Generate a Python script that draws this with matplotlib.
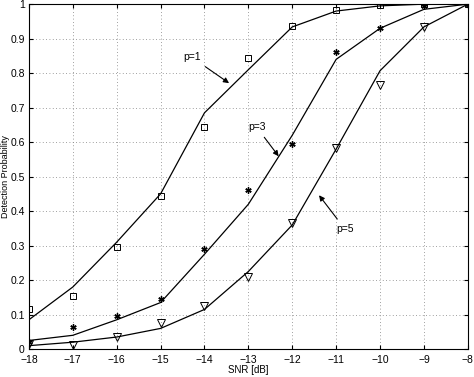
import matplotlib
matplotlib.use("Agg")
import matplotlib.pyplot as plt
import numpy as np

plt.rcParams["font.family"] = ["Liberation Sans", "DejaVu Sans"]

snr = [-18, -17, -16, -15, -14, -13, -12, -11, -10, -9, -8]

# theoretical curves
p1_line = [0.085, 0.18, 0.31, 0.45, 0.685, 0.81, 0.934, 0.98, 0.995, 1.0, 1.0]
p3_line = [0.025, 0.04, 0.085, 0.135, 0.275, 0.42, 0.62, 0.84, 0.93, 0.985, 1.0]
p5_line = [0.01, 0.02, 0.035, 0.06, 0.115, 0.225, 0.36, 0.58, 0.807, 0.934, 1.0]

# simulated points
p1_sim = [0.115, 0.155, 0.295, 0.445, 0.645, 0.845, 0.937, 0.983, 0.998, 1.0, 1.0]
p3_sim = [0.02, 0.065, 0.095, 0.145, 0.29, 0.46, 0.595, 0.862, 0.93, 0.995, 1.0]
p5_sim = [0.015, 0.012, 0.035, 0.075, 0.125, 0.21, 0.365, 0.583, 0.765, 0.935, 1.0]

fig = plt.figure(figsize=(4.74, 3.77), dpi=100)
ax = fig.add_axes([0.061, 0.074, 0.926, 0.915])

for line in (p1_line, p3_line, p5_line):
    ax.plot(snr, line, color="black", lw=0.9)

ax.plot(snr, p1_sim, ls="none", marker="s", ms=5, mfc="none", mec="black", mew=0.7)
ax.plot(snr, p3_sim, ls="none", marker=(6, 2, 0), ms=4.5, color="black", mew=1.0)
ax.plot(snr, p5_sim, ls="none", marker="v", ms=6, mfc="none", mec="black", mew=0.7)

arrow = dict(arrowstyle="-|>", color="black", lw=0.8, mutation_scale=8, shrinkA=2, shrinkB=0)
ax.annotate("p=1", xy=(-13.44, 0.771), xytext=(-14.29, 0.846), fontsize=7.5,
            ha="center", va="center", arrowprops=arrow)
ax.annotate("p=3", xy=(-12.31, 0.559), xytext=(-12.81, 0.643), fontsize=7.5,
            ha="center", va="center", arrowprops=arrow)
ax.annotate("p=5", xy=(-11.39, 0.446), xytext=(-10.80, 0.348), fontsize=7.5,
            ha="center", va="center", arrowprops=arrow)

ax.set_xlim(-18, -8)
ax.set_ylim(0, 1)
ax.set_xticks(snr)
ax.set_xticklabels(["\u2212%d" % abs(v) for v in snr])
yt = np.round(np.arange(0, 1.01, 0.1), 1)
ax.set_yticks(yt)
ax.set_yticklabels(["0"] + ["%.1f" % v for v in yt[1:-1]] + ["1"])
ax.tick_params(direction="in", labelsize=7.5, length=3, top=True, right=True)
ax.tick_params(axis="x", pad=4.5)
ax.tick_params(axis="y", pad=3)
ax.grid(True, ls=(0, (1, 3)), color="gray", lw=0.6)
ax.set_xlabel("SNR [dB]", fontsize=7, labelpad=0)
ax.set_ylabel("Detection Probability", fontsize=6.5, labelpad=0)
for s in ax.spines.values():
    s.set_linewidth(0.8)

fig.savefig("out.png", dpi=100)
